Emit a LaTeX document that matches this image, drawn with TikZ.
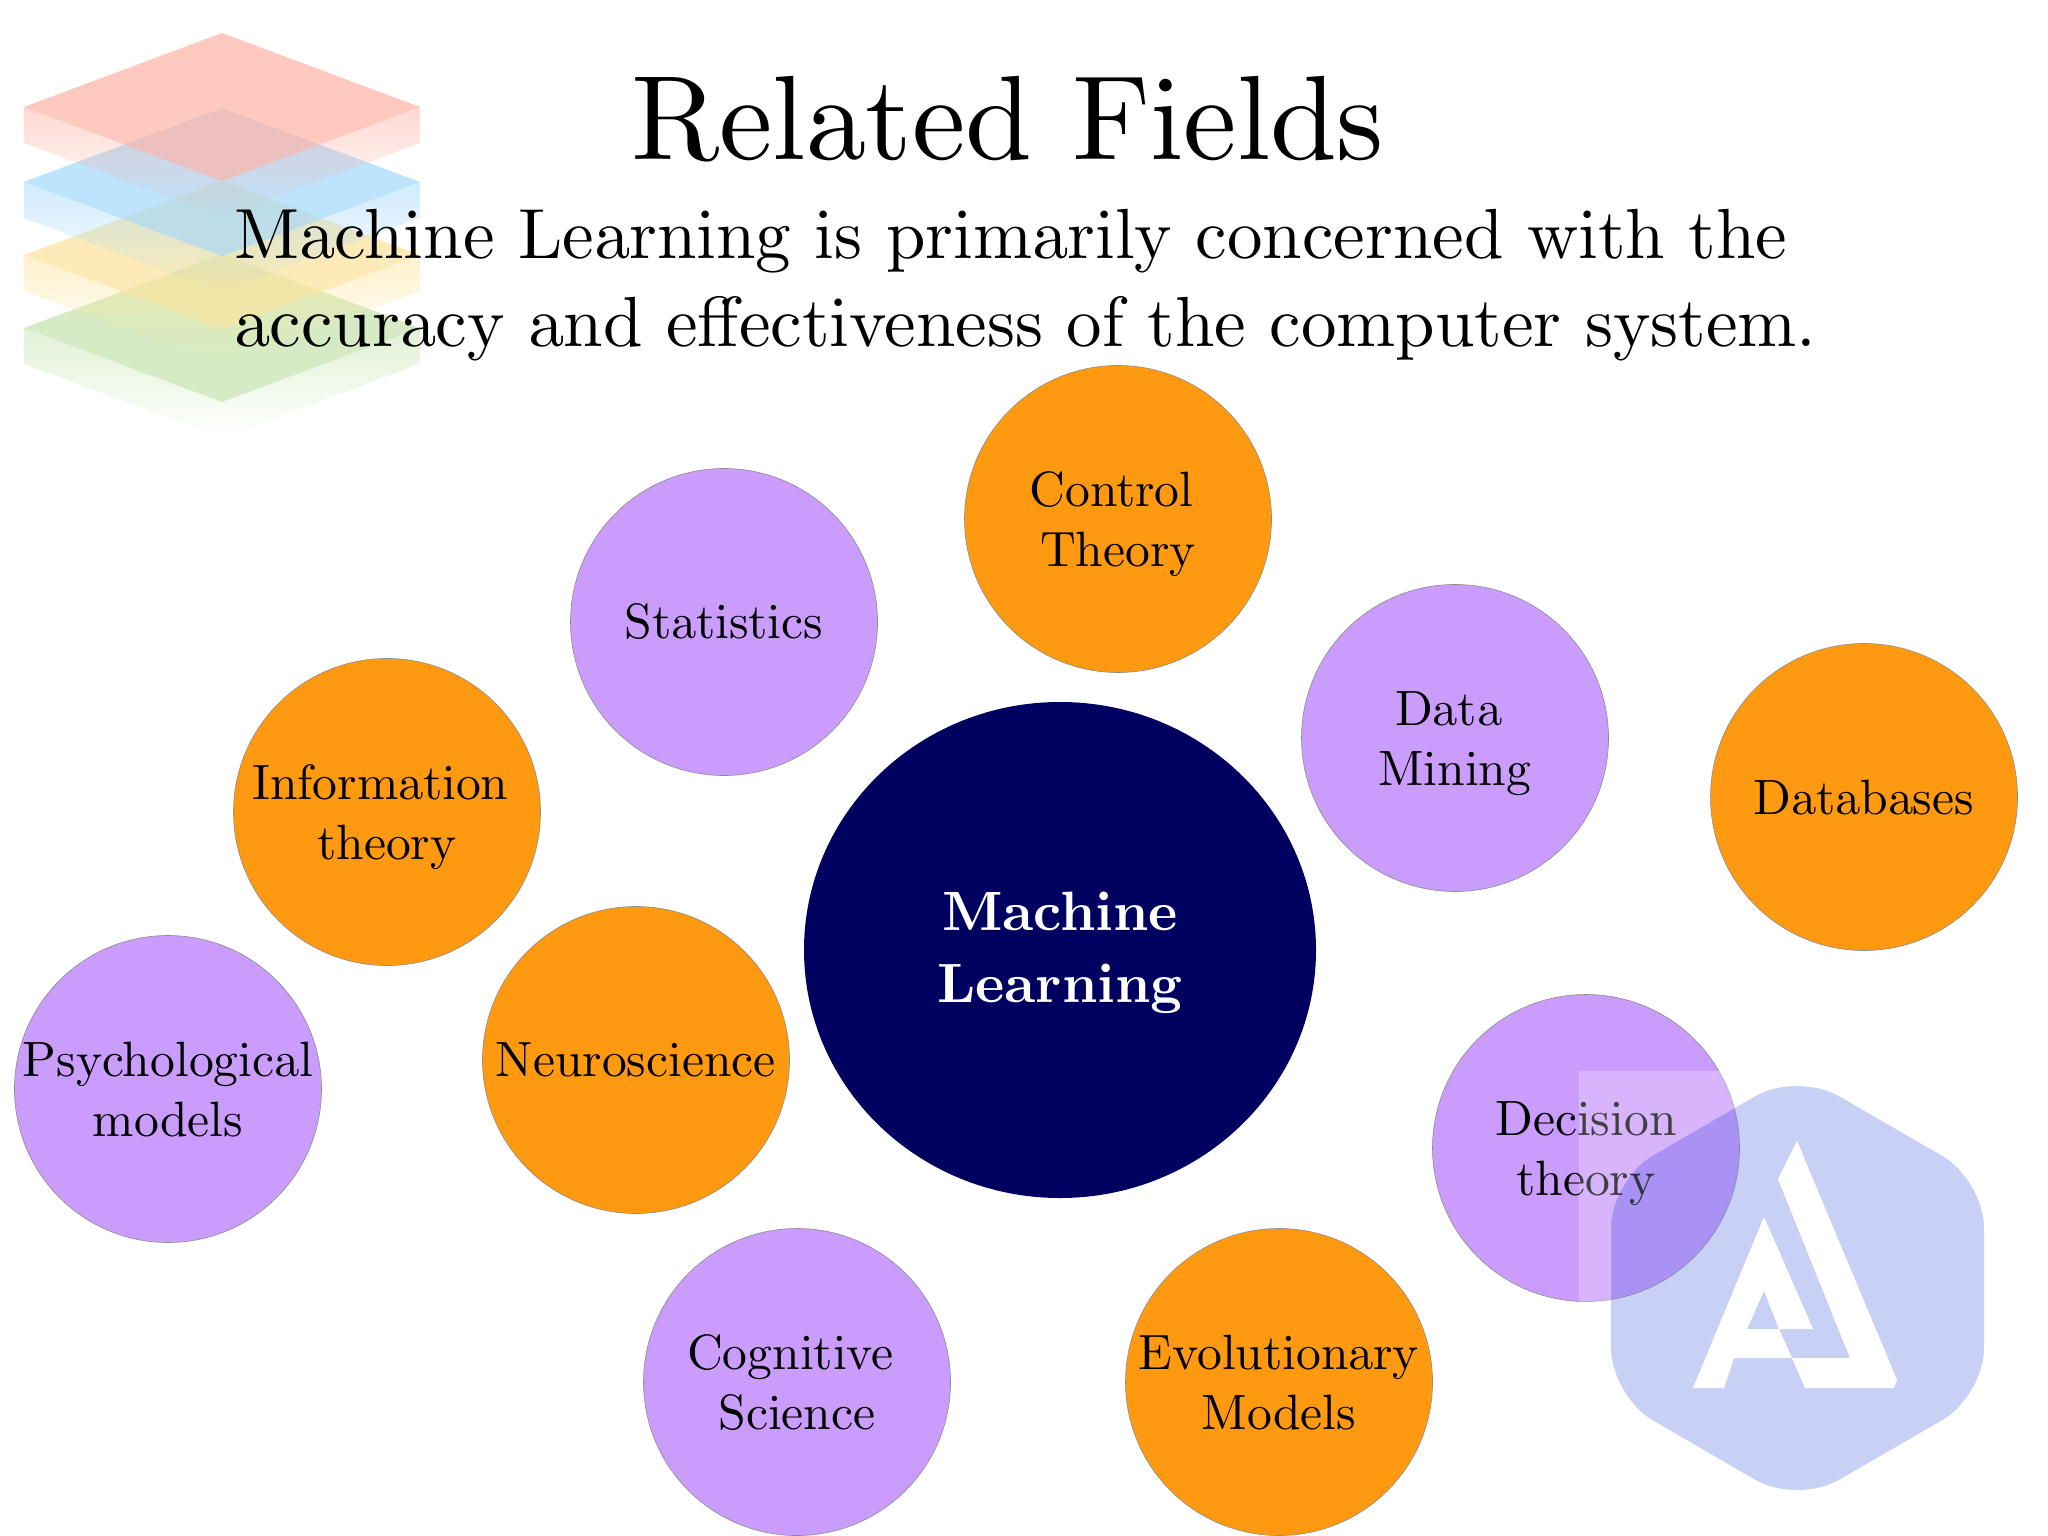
\documentclass[tikz,border=0pt]{standalone}
\usepackage{tikz}
\usetikzlibrary{shapes.geometric, fadings}
\definecolor{fieldpurple}{HTML}{CA9CFC}
\definecolor{fieldorange}{HTML}{FF9A10}
\definecolor{corenavy}{HTML}{000060}
\definecolor{hexblue}{HTML}{C9D0F6}
\definecolor{layerred}{RGB}{255,178,164}
\definecolor{layerblue}{RGB}{161,215,252}
\definecolor{layeryellow}{RGB}{251,227,154}
\definecolor{layergreen}{RGB}{196,227,172}
\font\titlefont=cmr10 at 60pt
\font\bodyfont=cmr10 at 35.5pt
\font\fieldfont=cmr10 at 24.8pt
\font\corefont=cmbx10 at 27.7pt
\newcommand{\gap}{\hspace*{6.5pt}}
\newcommand{\twolines}[2]{\rule{0pt}{22pt}#1\\#2\rule[-5pt]{0pt}{5pt}}
\begin{document}
\begin{tikzpicture}[x=0.5pt, y=-0.5pt]
        \tikzstyle{field}=[circle, draw=black!45, line width=0.3pt, inner sep=-8pt, minimum size=153.5pt, align=center, font=\fieldfont\setlength{\baselineskip}{30pt}]
        \tikzstyle{purple field}=[field, fill=fieldpurple]
        \tikzstyle{orange field}=[field, fill=fieldorange]
        \useasboundingbox (0,0) rectangle (2048,1535);
        % stacked layers, top left
        \foreach \dy/\col in {221/layergreen, 148/layeryellow, 75/layerblue, 0/layerred} {
            \fill[\col, fill opacity=.5, path fading=south] (24,107+\dy) -- (24,143+\dy) -- (222,217+\dy) -- (420,143+\dy) -- (420,107+\dy) -- (222,181+\dy) -- cycle;
            \fill[\col, fill opacity=.7] (222,33+\dy) -- (420,107+\dy) -- (222,181+\dy) -- (24,107+\dy) -- cycle;
        }
        \node (title) at (1008,118) {\titlefont Related Fields};
        \node (body) [anchor=west, align=left, inner sep=0pt, font=\bodyfont\setlength{\baselineskip}{44pt}] at (234,285) {Machine Learning is primarily concerned with the\\accuracy and effectiveness of the computer system.};
        \node (core) [ellipse, fill=corenavy, text=white, inner sep=0pt, minimum width=256pt, minimum height=248pt, align=center, font=\corefont\setlength{\baselineskip}{36pt}] at (1060,950) {\rule{0pt}{22pt}Machine\\Learning};
        \node (control) [orange field] at (1118,519) {\twolines{Control\gap}{Theory}};
        \node (statistics) [purple field] at (724,622) {Statistics};
        \node (mining) [purple field] at (1455,738) {\twolines{Data\gap}{Mining}};
        \node (databases) [orange field] at (1864,797) {Databases};
        \node (information) [orange field] at (387,812) {\twolines{Information\gap}{theory}};
        \node (psychological) [purple field] at (168,1089) {\twolines{Psychological}{models}};
        \node (neuroscience) [orange field] at (636,1060) {Neuroscience};
        \node (cognitive) [purple field] at (797,1382) {\twolines{Cognitive\gap}{Science}};
        \node (evolutionary) [orange field] at (1279,1382) {\twolines{Evolutionary}{Models}};
        \node (decision) [purple field] at (1586,1148) {\twolines{Decision}{theory}};
        % badge, bottom right
        \fill[white, fill opacity=.25] (1579,1071) rectangle (1984,1493);
        \begin{scope}[blend mode=multiply]
            \fill[hexblue, rounded corners=24pt] (1797,1072) -- (1984,1180) -- (1984,1396) -- (1797,1504) -- (1611,1396) -- (1611,1180) -- cycle;
        \end{scope}
        \fill[white, even odd rule] (1764,1217) -- (1813,1329) -- (1779,1329) -- (1792,1358) -- (1734,1358) -- (1724,1388) -- (1693,1388) -- cycle (1764,1291) -- (1747,1329) -- (1779,1329) -- cycle;
        \fill[white] (1797,1141) -- (1897,1380) -- (1894,1388) -- (1805,1388) -- (1792,1358) -- (1850,1358) -- (1778,1179) -- cycle;
    \end{tikzpicture}
\end{document}
